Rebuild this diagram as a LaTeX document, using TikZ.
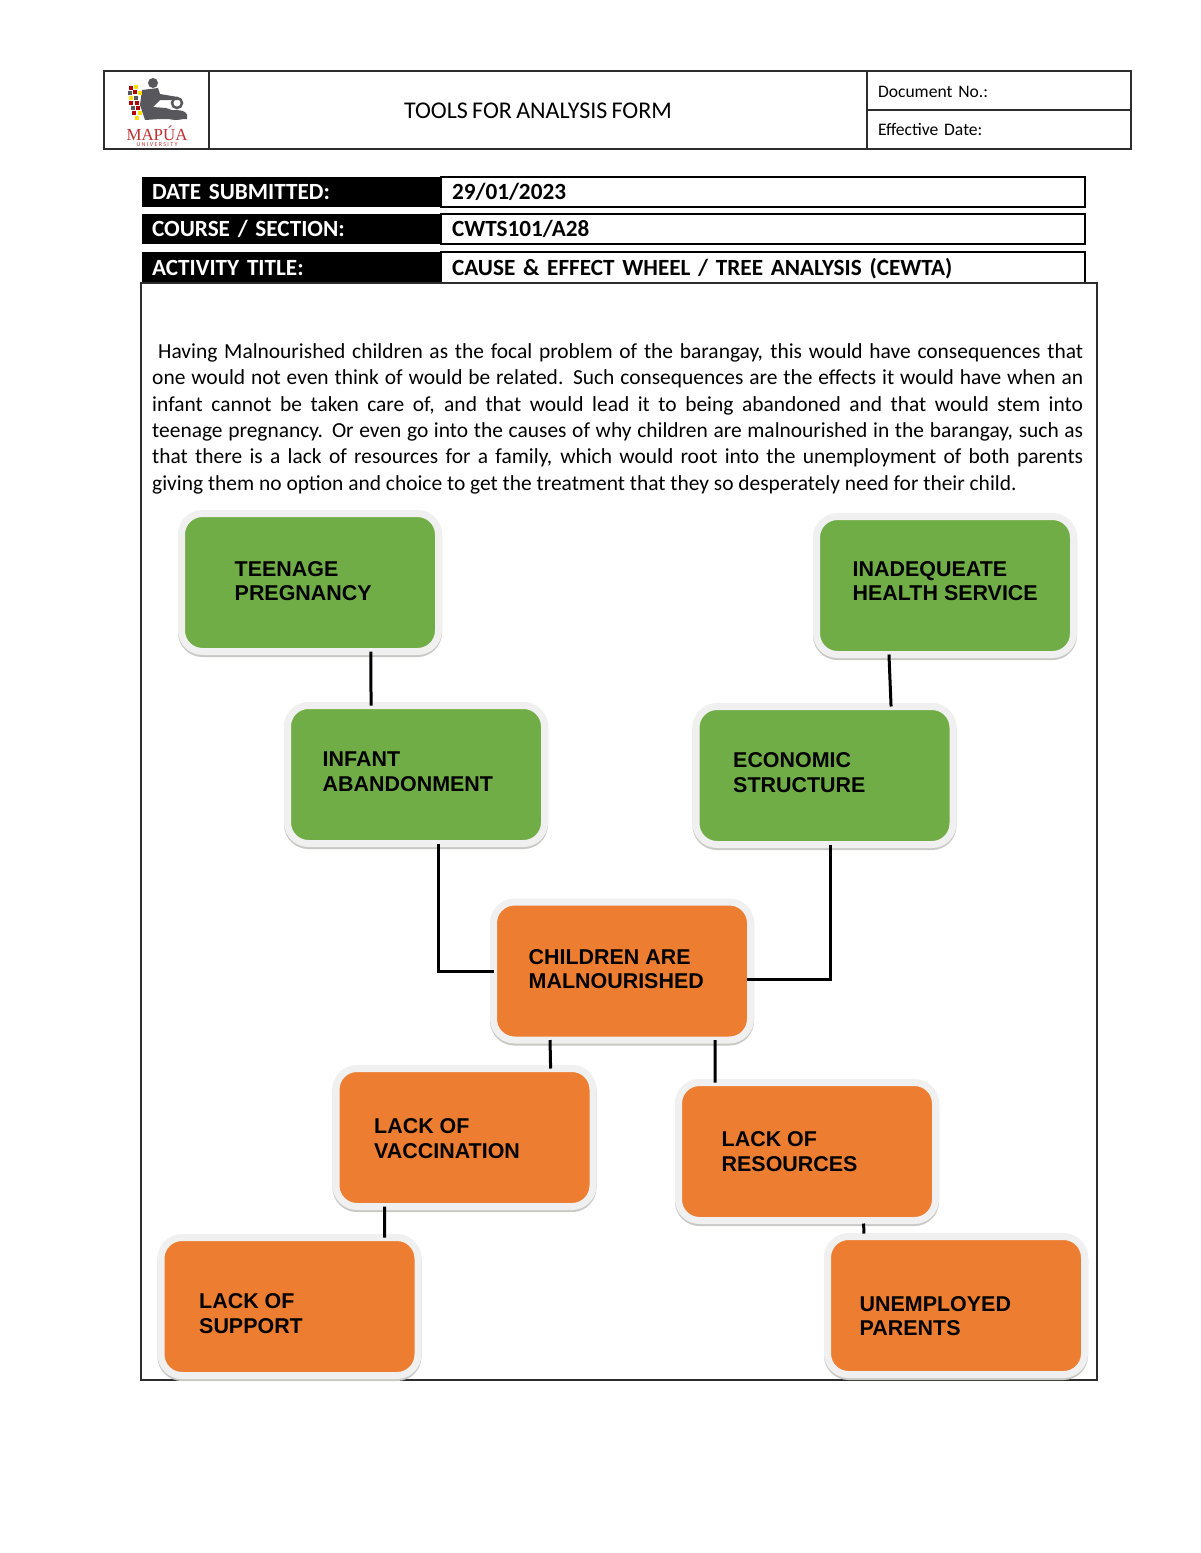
\documentclass[tikz,border=0pt]{standalone}
\usepackage{fontspec}
\usepackage{xcolor}
\usetikzlibrary{arrows.meta,positioning,calc}
\setmainfont{Carlito}
\newfontfamily\formfont[WordSpace=0.8]{Carlito}
\newfontfamily\rowbold[WordSpace=0.75]{Carlito Bold}
\newfontfamily\boxfont{Liberation Sans}
\newfontfamily\logofont{Liberation Serif}
\definecolor{SoftGreen}{RGB}{112,173,71}
\definecolor{SoftOrange}{RGB}{237,125,49}
\definecolor{SoftEdge}{RGB}{240,240,240}
\definecolor{SoftShade}{RGB}{200,200,196}
\definecolor{RuleGrey}{RGB}{45,45,45}
\definecolor{LogoGrey}{RGB}{88,88,92}
\definecolor{LogoRed}{RGB}{190,50,50}
\tikzset{
  formcell/.style={draw=RuleGrey, line width=0.013cm, outer sep=0pt, inner sep=0pt},
  doccell/.style={formcell, minimum width=2.64cm, minimum height=0.39cm, text width=2.42cm, text depth=0pt, font=\formfont\fontsize{5.0}{6}\selectfont, align=left},
  headcell/.style={fill=black, text=white, outer sep=0pt, inner xsep=0.1cm, inner ysep=0pt, minimum height=0.30cm, text width=2.79cm, text height=0.19cm, text depth=0.04cm, align=left, font=\rowbold\fontsize{6.6}{8}\selectfont},
  valuecell/.style={draw=black, line width=0.013cm, outer sep=0pt, inner xsep=0.11cm, inner ysep=0pt, minimum height=0.30cm, text width=6.22cm, text height=0.19cm, text depth=0.04cm, align=left, font=\rowbold\fontsize{6.6}{8}\selectfont},
  causebox/.style={on grid, draw=SoftEdge, line width=0.07cm, rounded corners=0.21cm, outer sep=0pt, minimum width=2.57cm, minimum height=1.38cm,
    preaction={draw=SoftShade, line width=0.07cm, transform canvas={yshift=-0.02cm}}},
  greenbox/.style={causebox, fill=SoftGreen},
  orangebox/.style={causebox, fill=SoftOrange},
  boxlabel/.style={inner sep=0pt, align=left, font=\boxfont\fontsize{6.1}{7}\selectfont\bfseries},
  link/.style={line width=0.03cm, black}
}
\begin{document}
\begin{tikzpicture}
\useasboundingbox (0,0) rectangle (12,-15.53);
\fill[white] (0,0) rectangle (12,-15.53);

% form header
\node[formcell, anchor=north west, minimum width=1.05cm, minimum height=0.78cm] (logocell) at (1.04,-0.71) {};
\node[formcell, right=0pt of logocell, minimum width=6.58cm, minimum height=0.78cm, text height=0.17cm, text depth=0pt, font=\formfont\fontsize{6.83}{8}\selectfont] (formtitle) {TOOLS FOR ANALYSIS FORM};
\node[doccell, anchor=north west, text height=0.142cm] (docno) at (formtitle.north east) {Document No.:};
\node[doccell, below=0pt of docno, text height=0.122cm] (effdate) {Effective Date:};

% logo
\fill[LogoGrey] (1.53,-0.83) circle (0.05cm);
\fill[LogoGrey] (1.42,-0.90) -- (1.58,-0.88) -- (1.60,-0.94) -- (1.78,-0.97) -- (1.78,-1.00) -- (1.60,-1.00) -- (1.53,-1.07) -- (1.66,-1.08) -- (1.87,-1.15) -- (1.87,-1.19) -- (1.60,-1.19) -- (1.45,-1.20) -- (1.40,-1.05) -- cycle;
\draw[LogoGrey, line width=0.025cm] (1.77,-1.03) circle (0.05cm);
\fill[LogoGrey] (1.76,-1.15) ellipse (0.11cm and 0.05cm);
\foreach \dotx/\doty/\dotcol in {1.31/-0.88/red!70!black, 1.36/-0.87/yellow!80!orange, 1.30/-0.93/LogoGrey, 1.35/-0.92/red!70!black, 1.40/-0.93/yellow!80!orange, 1.31/-0.98/yellow!80!orange, 1.36/-0.98/LogoGrey, 1.31/-1.03/red!70!black, 1.37/-1.03/red!70!black, 1.33/-1.08/LogoGrey, 1.38/-1.08/red!70!black, 1.34/-1.13/red!70!black, 1.40/-1.13/yellow!80!orange, 1.37/-1.18/yellow!80!orange}
  \fill[\dotcol] (\dotx-0.02,\doty-0.02) rectangle (\dotx+0.02,\doty+0.02);
\node[inner sep=0pt, text=LogoRed, font=\logofont\fontsize{4.8}{6}\selectfont] (logoname) at (1.57,-1.33) {MAPÚA};
\node[below=0.01cm of logoname, inner sep=0pt, text=LogoRed, font=\fontsize{1.7}{2}\selectfont] (logouni) {U N I V E R S I T Y};

% submission rows
\node[headcell, anchor=north west] (datehead) at (1.42,-1.77) {DATE SUBMITTED:};
\node[valuecell, right=0pt of datehead] (dateval) {29/01/2023};
\node[headcell, below=0.07cm of datehead] (coursehead) {COURSE / SECTION:};
\node[valuecell, right=0pt of coursehead] (courseval) {CWTS101/A28};
\node[headcell, below=0.08cm of coursehead, minimum height=0.31cm] (titlehead) {ACTIVITY TITLE:};
\node[valuecell, right=0pt of titlehead, minimum height=0.31cm] (titleval) {CAUSE \& EFFECT WHEEL / TREE ANALYSIS (CEWTA)};

% outer frame
\draw[RuleGrey, line width=0.013cm] (1.41,-2.83) rectangle (10.97,-13.80);

\node[anchor=north west, inner sep=0pt, text width=9.31cm, align=justify, font=\fontsize{6.1}{7.48}\selectfont] (para) at (1.515,-3.43) {\hspace*{0.06cm}Having Malnourished children as the focal problem of the barangay, this would have consequences that\linebreak
one would not even think of would be related. Such consequences are the effects it would have when an\linebreak
infant cannot be taken care of, and that would lead it to being abandoned and that would stem into\linebreak
teenage pregnancy. Or even go into the causes of why children are malnourished in the barangay, such as\linebreak
that there is a lack of resources for a family, which would root into the unemployment of both parents\linebreak
giving them no option and choice to get the treatment that they so desperately need for their child.};

% boxes
\node[orangebox] (child) at (6.22,-9.71) {};
\node[greenbox, above left=1.965cm and 2.06cm of child] (infant) {};
\node[greenbox, above right=1.955cm and 2.025cm of child] (econ) {};
\node[greenbox, above left=1.92cm and 1.06cm of infant] (teen) {};
\node[greenbox, above right=1.90cm and 1.205cm of econ] (health) {};
\node[orangebox, below left=1.665cm and 1.575cm of child] (vacc) {};
\node[orangebox, below right=1.805cm and 1.85cm of child] (res) {};
\node[orangebox, below left=1.69cm and 1.75cm of vacc] (support) {};
\node[orangebox, below right=1.54cm and 1.49cm of res] (parents) {};

\node[boxlabel, right=0.525cm of teen.west, yshift=0.015cm] (teentext) {TEENAGE\\PREGNANCY};
\node[boxlabel, right=0.345cm of infant.west, yshift=0.03cm] (infanttext) {INFANT\\ABANDONMENT};
\node[boxlabel, right=0.355cm of health.west, yshift=0.045cm] (healthtext) {INADEQUEATE\\HEALTH SERVICE};
\node[boxlabel, right=0.365cm of econ.west, yshift=0.03cm] (econtext) {ECONOMIC\\STRUCTURE};
\node[boxlabel, right=0.345cm of child.west, yshift=0.02cm] (childtext) {CHILDREN ARE\\MALNOURISHED};
\node[boxlabel, right=0.375cm of vacc.west, yshift=-0.01cm] (vacctext) {LACK OF\\VACCINATION};
\node[boxlabel, right=0.425cm of res.west] (restext) {LACK OF\\RESOURCES};
\node[boxlabel, right=0.375cm of support.west, yshift=-0.07cm] (supporttext) {LACK OF\\SUPPORT};
\node[boxlabel, right=0.315cm of parents.west, yshift=-0.105cm] (parentstext) {UNEMPLOYED\\PARENTS};

% connectors
\draw[link] ($(teen.south west)!0.737!(teen.south east)$) -- ($(infant.north west)!0.325!(infant.north east)$);
\draw[link] ($(health.south west)!0.282!(health.south east)$) -- ($(econ.north west)!0.759!(econ.north east)$);
\draw[link] ($(infant.south west)!0.589!(infant.south east)$) |- (child.west);
\draw[link] ($(econ.south west)!0.523!(econ.south east)$) |- ($(child.east)+(-0.035,-0.08)$);
\draw[link] ($(child.south west)!0.22!(child.south east)$) -- ($(vacc.north west)!0.835!(vacc.north east)$);
\draw[link] ($(child.south west)!0.862!(child.south east)$) -- ($(res.north west)!0.142!(res.north east)$);
\draw[link] ($(vacc.south west)!0.189!(vacc.south east)$) -- ($(support.north west)!0.87!(support.north east)$);
\draw[link, shorten <=0.03cm, shorten >=0.03cm] ($(res.south west)!0.72!(res.south east)$) -- ($(parents.north west)!0.142!(parents.north east)$);
\end{tikzpicture}
\end{document}
